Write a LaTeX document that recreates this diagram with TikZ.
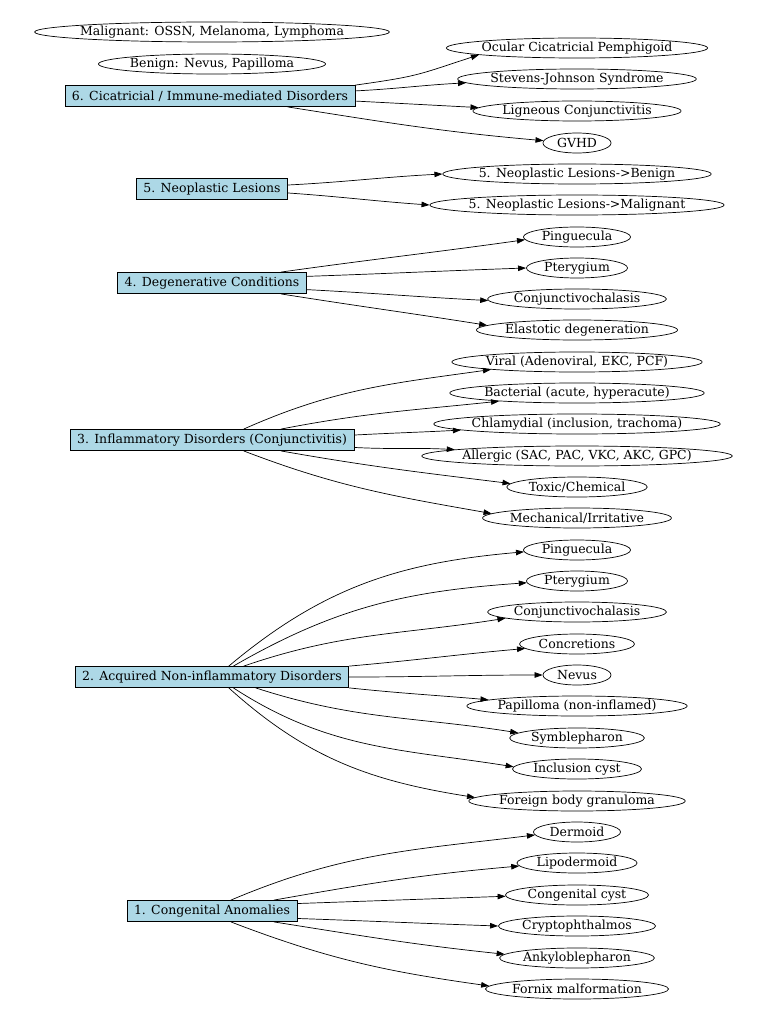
\documentclass[tikz,border=0pt]{standalone}
\usepackage{fontspec}
\setmainfont{DejaVu Serif}
\usepackage{tikz}
\usetikzlibrary{arrows.meta,shapes.geometric}
\definecolor{boxblue}{HTML}{ADD8E6}
\newcommand\leaffont{\fontsize{12.5}{15}\selectfont}
\newlength\leafw
% ellipse width as the reference sets it: 1.28 x text + margin
\newcommand\leafnode[4]{%
  \pgfinterruptpicture\settowidth\leafw{\leaffont #4}\global\leafw=\leafw\endpgfinterruptpicture
  \node[leaf, minimum width=1.28*\leafw+17pt] (#1) at (#2,#3) {#4};}

\begin{document}
\begin{tikzpicture}[x=1pt, y=-1pt,
    font=\leaffont,
    group/.style={draw, fill=boxblue, rectangle, minimum height=21pt, inner xsep=7pt, inner ysep=0pt, line width=0.8pt},
    leaf/.style={draw, ellipse, minimum height=20pt, inner xsep=-10pt, inner ysep=0pt, line width=0.7pt},
    arr/.style={-{Triangle[length=8pt,width=5.5pt]}, line width=0.7pt}]
  \useasboundingbox (0,0) rectangle (768,1024);

  % free notes at the top
  \leafnode{mal}{212}{32}{Malignant: OSSN, Melanoma, Lymphoma}
  \leafnode{ben}{212}{64}{Benign: Nevus, Papilloma}

  % 6. cicatricial
  \node[group] (g6) at (210,96) {6. Cicatricial / Immune-mediated Disorders};
  \foreach \n/\t/\y in {ocp/{Ocular Cicatricial Pemphigoid}/48, sjs/{Stevens-Johnson Syndrome}/79,
      lig/{Ligneous Conjunctivitis}/111, gvhd/{GVHD}/143}
    {\leafnode{\n}{577}{\y}{\t}}
  % child/start/out/in/end
  \draw[arr] (g6.north east) to[out=8, in=198, looseness=1.3] (ocp.184);
  \foreach \n/\a/\o/\i/\e in {sjs/2/3/183/182, lig/358/-3/177/178, gvhd/352/-9/175/176}
    \draw[arr] (g6.\a) to[out=\o, in=\i] (\n.\e);

  % 5. neoplastic
  \node[group] (g5) at (212,189) {5. Neoplastic Lesions};
  \foreach \n/\t/\y in {nb/{5. Neoplastic Lesions->Benign}/174, nm/{5. Neoplastic Lesions->Malignant}/205}
    {\leafnode{\n}{577}{\y}{\t}}
  \foreach \n/\a/\o/\i/\e in {nb/3/3/183/180, nm/357/-4/176/180}
    \draw[arr] (g5.\a) to[out=\o, in=\i] (\n.\e);

  % 4. degenerative
  \node[group] (g4) at (212,283) {4. Degenerative Conditions};
  \foreach \n/\t/\y in {pinf/{Pinguecula}/237, ptef/{Pterygium}/268, conf/{Conjunctivochalasis}/299,
      ela/{Elastotic degeneration}/330}
    {\leafnode{\n}{577}{\y}{\t}}
  \foreach \n/\a/\o/\i/\e in {pinf/9/8/188/183, ptef/4/2/182/180, conf/356/-3/177/181, ela/351/-9/171/177}
    \draw[arr] (g4.\a) to[out=\o, in=\i] (\n.\e);

  % 3. inflammatory
  \node[group] (g3) at (212,440) {3. Inflammatory Disorders (Conjunctivitis)};
  \foreach \n/\t/\y in {vir/{Viral (Adenoviral, EKC, PCF)}/362, bac/{Bacterial (acute, hyperacute)}/393,
      chl/{Chlamydial (inclusion, trachoma)}/424, all/{Allergic (SAC, PAC, VKC, AKC, GPC)}/456,
      tox/{Toxic/Chemical}/487, mec/{Mechanical/Irritative}/518}
    {\leafnode{\n}{577}{\y}{\t}}
  \foreach \n/\a/\o/\i/\e in {vir/19/24/188/185, bac/9/11/186/186, chl/2/3/183/183, all/357/-3/177/177,
      tox/351/-10/173/177, mec/341/-21/170/177}
    \draw[arr] (g3.\a) to[out=\o, in=\i] (\n.\e);

  % 2. acquired non-inflammatory
  \node[group] (g2) at (212,677) {2. Acquired Non-inflammatory Disorders};
  \foreach \n/\t/\y in {pint/{Pinguecula}/550, ptet/{Pterygium}/581, cont/{Conjunctivochalasis}/612,
      cnc/{Concretions}/644, nev/{Nevus}/675, pap/{Papilloma (non-inflamed)}/706,
      sym/{Symblepharon}/738, inc/{Inclusion cyst}/769, fbg/{Foreign body granuloma}/801}
    {\leafnode{\n}{577}{\y}{\t}}
  \foreach \n/\a/\o/\i/\e in {pint/33/40/185/182, ptet/27/30/184/182, cont/19/19/189/185,
      cnc/north east/5/185/185, nev/east/0/180/180, pap/south east/-6/175/176,
      sym/346/-18/171/175, inc/333/-33/171/178, fbg/327/-42/171/178}
    \draw[arr] (g2.\a) to[out=\o, in=\i] (\n.\e);

  % 1. congenital
  \node[group] (g1) at (212,911) {1. Congenital Anomalies};
  \foreach \n/\t/\y in {der/{Dermoid}/832, lip/{Lipodermoid}/863, cgc/{Congenital cyst}/895,
      cry/{Cryptophthalmos}/926, ank/{Ankyloblepharon}/958, frn/{Fornix malformation}/989}
    {\leafnode{\n}{577}{\y}{\t}}
  \foreach \n/\a/\o/\i/\e in {der/30/23/187/184, lip/10/10/185/183, cgc/5/2/182/181, cry/355/-2/178/180,
      ank/350/-9/174/177, frn/330/-21/172/178}
    \draw[arr] (g1.\a) to[out=\o, in=\i] (\n.\e);
\end{tikzpicture}
\end{document}
